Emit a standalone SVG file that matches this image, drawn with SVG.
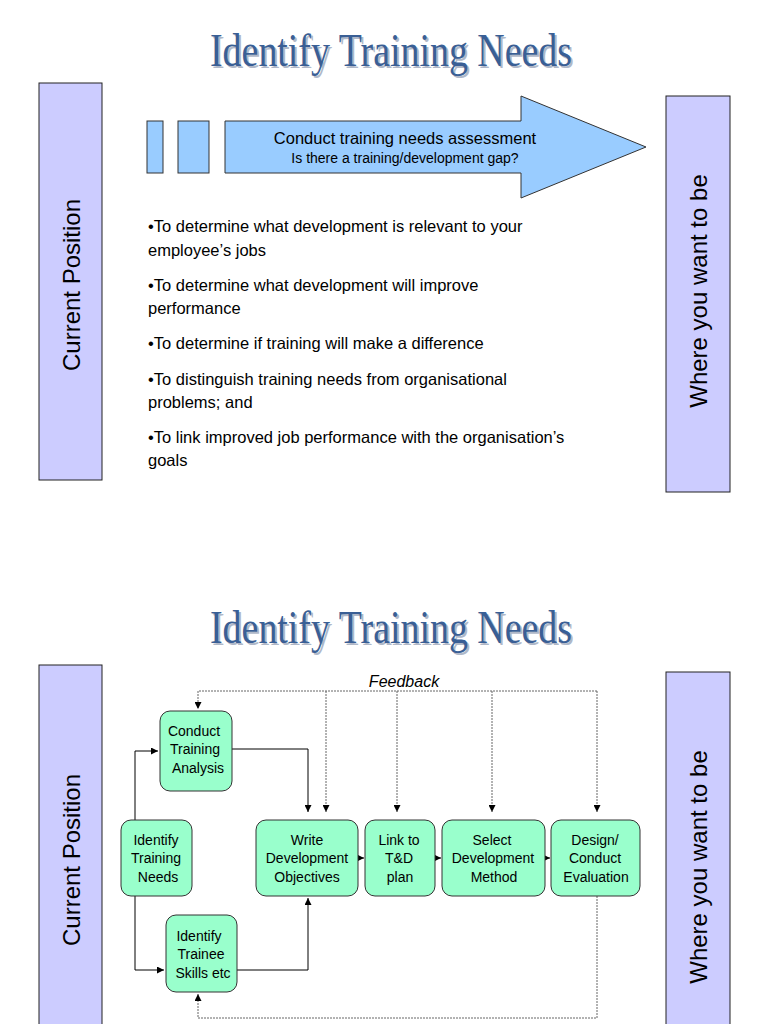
<svg xmlns="http://www.w3.org/2000/svg" width="768" height="1024" viewBox="0 0 768 1024">
<style>
.title{font-family:"Liberation Serif",serif;font-size:46px;fill:#3a5f95;text-anchor:middle}
.shadow{font-family:"Liberation Serif",serif;font-size:46px;fill:#b0b8c8;text-anchor:middle}
.bar{fill:#ccccff;stroke:#222;stroke-width:1}
.side{font-family:"Liberation Sans",sans-serif;font-size:24px;fill:#000;text-anchor:middle}
.blue{fill:#99ccff;stroke:#333;stroke-width:1}
.b{font-family:"Liberation Sans",sans-serif;font-size:16.5px;fill:#000}
.node{fill:#99ffcc;stroke:#333;stroke-width:1}
.nt{font-family:"Liberation Sans",sans-serif;font-size:14px;fill:#000;text-anchor:middle}
.solid{fill:none;stroke:#000;stroke-width:1}
.dot{fill:none;stroke:#666;stroke-width:1;stroke-dasharray:2,1}
</style>
<defs>
<marker id="ah" viewBox="0 0 10 10" refX="10" refY="5" markerWidth="7" markerHeight="7" orient="auto"><path d="M0,0L10,5L0,10z" fill="#000"/></marker>
</defs>
<rect width="768" height="1024" fill="#fff"/>
<!-- Slide 1 -->
<text class="shadow" x="393" y="68" textLength="362" lengthAdjust="spacingAndGlyphs">Identify Training Needs</text>
<text class="title" x="391" y="66" textLength="362" lengthAdjust="spacingAndGlyphs">Identify Training Needs</text>
<g id="current1"><rect class="bar" x="39" y="83" width="63" height="397"/><text class="side" transform="translate(80,285) rotate(-90)">Current Position</text></g>
<g id="where1"><rect class="bar" x="666" y="96" width="64" height="396"/><text class="side" transform="translate(707,291) rotate(-90)">Where you want to be</text></g>
<g id="arrow1">
<rect class="blue" x="147" y="121" width="16" height="52"/>
<rect class="blue" x="178" y="121" width="31" height="52"/>
<path class="blue" d="M225,121H521V96L646,147L521,198V173H225z"/>
<text x="405" y="144" font-family="Liberation Sans,sans-serif" font-size="16.5" text-anchor="middle">Conduct training needs assessment</text>
<text x="405" y="163" font-family="Liberation Sans,sans-serif" font-size="14" text-anchor="middle">Is there a training/development gap?</text>
</g>
<g id="bullets">
<text class="b" x="148" y="232">•To determine what development is relevant to your</text>
<text class="b" x="148" y="256">employee’s jobs</text>
<text class="b" x="148" y="291">•To determine what development will improve</text>
<text class="b" x="148" y="314">performance</text>
<text class="b" x="148" y="349">•To determine if training will make a difference</text>
<text class="b" x="148" y="385">•To distinguish training needs from organisational</text>
<text class="b" x="148" y="408">problems; and</text>
<text class="b" x="148" y="443">•To link improved job performance with the organisation’s</text>
<text class="b" x="148" y="466">goals</text>
</g>
<!-- Slide 2 -->
<text class="shadow" x="393" y="645" textLength="362" lengthAdjust="spacingAndGlyphs">Identify Training Needs</text>
<text class="title" x="391" y="643" textLength="362" lengthAdjust="spacingAndGlyphs">Identify Training Needs</text>
<g id="current2"><rect class="bar" x="39" y="665" width="63" height="370"/><text class="side" transform="translate(80,860) rotate(-90)">Current Position</text></g>
<g id="where2"><rect class="bar" x="666" y="672" width="64" height="360"/><text class="side" transform="translate(707,867) rotate(-90)">Where you want to be</text></g>
<text x="404" y="687" font-family="Liberation Sans,sans-serif" font-size="16" font-style="italic" text-anchor="middle">Feedback</text>
<g id="connectors">
<path class="dot" d="M597,691H198V709" marker-end="url(#ah)"/>
<path class="dot" d="M326,691V812" marker-end="url(#ah)"/>
<path class="dot" d="M397,691V812" marker-end="url(#ah)"/>
<path class="dot" d="M492,691V812" marker-end="url(#ah)"/>
<path class="dot" d="M597,691V812" marker-end="url(#ah)"/>
<path class="dot" d="M597,896V1018H198V994" marker-end="url(#ah)"/>
<path class="solid" d="M135,820V751H158" marker-end="url(#ah)"/>
<path class="solid" d="M135,896V970H164" marker-end="url(#ah)"/>
<path class="solid" d="M232,749H308V812" marker-end="url(#ah)"/>
<path class="solid" d="M237,970H308V898" marker-end="url(#ah)"/>
<path class="solid" d="M358,858H364" marker-end="url(#ah)"/>
<path class="solid" d="M435,858H441" marker-end="url(#ah)"/>
<path class="solid" d="M545,858H550" marker-end="url(#ah)"/>
</g>
<g id="cta"><rect class="node" x="160" y="711" width="72" height="80" rx="10"/><text class="nt" x="194" y="736">Conduct</text><text class="nt" x="195" y="754">Training</text><text class="nt" x="198" y="773">Analysis</text></g>
<g id="itn"><rect class="node" x="121" y="820" width="71" height="76" rx="10"/><text class="nt" x="156" y="845">Identify</text><text class="nt" x="156" y="863">Training</text><text class="nt" x="158" y="882">Needs</text></g>
<g id="its"><rect class="node" x="166" y="915" width="71" height="77" rx="10"/><text class="nt" x="199" y="941">Identify</text><text class="nt" x="201" y="959">Trainee</text><text class="nt" x="203" y="978">Skills etc</text></g>
<g id="wdo"><rect class="node" x="256" y="820" width="102" height="76" rx="10"/><text class="nt" x="307" y="845">Write</text><text class="nt" x="307" y="863">Development</text><text class="nt" x="307" y="882">Objectives</text></g>
<g id="link"><rect class="node" x="365" y="820" width="70" height="76" rx="10"/><text class="nt" x="399" y="845">Link to</text><text class="nt" x="399" y="863">T&amp;D</text><text class="nt" x="400" y="882">plan</text></g>
<g id="sdm"><rect class="node" x="442" y="820" width="103" height="76" rx="10"/><text class="nt" x="492" y="845">Select</text><text class="nt" x="493" y="863">Development</text><text class="nt" x="494" y="882">Method</text></g>
<g id="dce"><rect class="node" x="551" y="820" width="89" height="76" rx="10"/><text class="nt" x="595" y="845">Design/</text><text class="nt" x="595" y="863">Conduct</text><text class="nt" x="596" y="882">Evaluation</text></g>
</svg>
